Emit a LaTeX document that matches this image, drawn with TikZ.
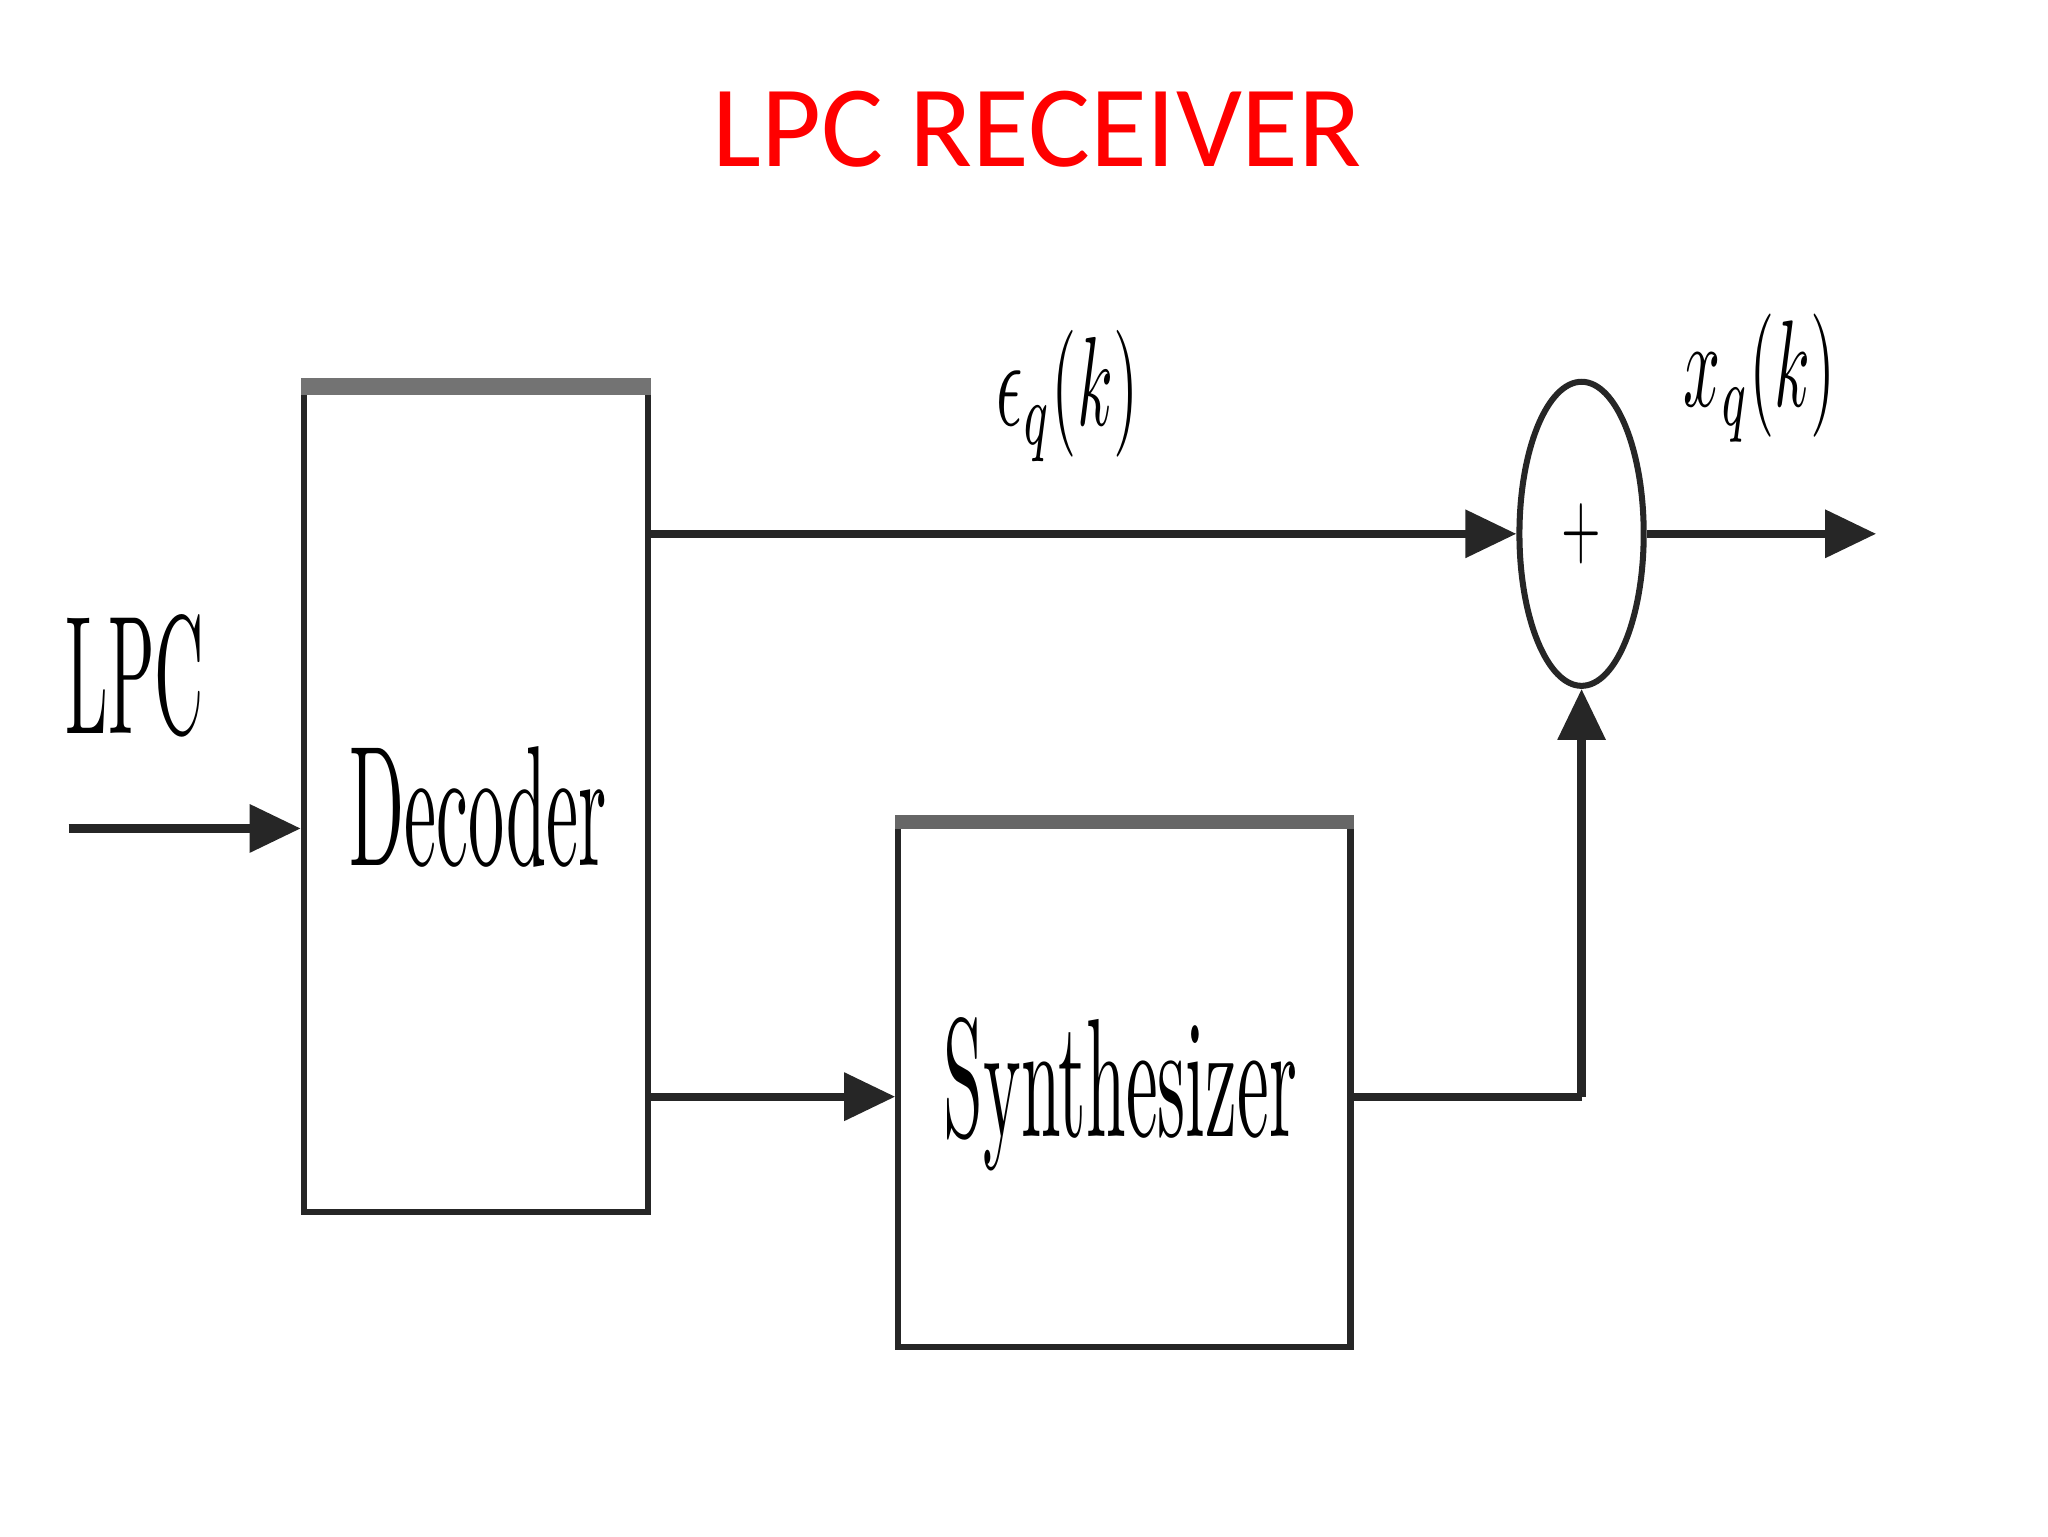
\documentclass[tikz,border=0pt]{standalone}
\usepackage{fontspec}
\newfontfamily\titlefont{Carlito}
\usetikzlibrary{arrows.meta,shapes.geometric}
\begin{document}
\begin{tikzpicture}[x=0.01cm,y=-0.01cm,
  blk/.style={draw=black!85,line width=1.3pt,inner sep=0},
  conn/.style={line width=1.8pt,draw=black!85,-{Triangle[length=11pt,width=10pt]}},
  seg/.style={line width=1.8pt,draw=black!85}]
\useasboundingbox (0,0) rectangle (1550,1163);
\node[text=red,font=\titlefont\fontsize{25}{30}\selectfont] (title) at (785,98) {LPC RECEIVER};
\node[blk,minimum width=2.6cm,minimum height=6.22cm] (dec) at (360,606) {};
\draw[line width=3.5pt,black!55] (dec.north west) -- (dec.north east);
\node[inner sep=0,anchor=base] (dect) at (362,655) {\resizebox{1.95cm}{0.9cm}{Decoder}};
\node[blk,minimum width=3.42cm,minimum height=3.95cm] (syn) at (851,822) {};
\draw[line width=3pt,black!60] (syn.north west) -- (syn.north east);
\node[inner sep=0,anchor=base] (synt) at (848,860) {\resizebox{2.67cm}{0.9cm}{Synthesizer}};
\node[draw=black!85,line width=1.3pt,ellipse,minimum width=0.94cm,minimum height=2.3cm,inner sep=0] (sum) at (1197,404) {};
\node[inner sep=0] (plus) at (1197,404) {\resizebox{0.3cm}{0.4cm}{+}};
\node[inner sep=0,anchor=base] (lpc) at (102,555) {\resizebox{1.05cm}{0.9cm}{LPC}};
\node[inner sep=0,anchor=base] (eps) at (808,322) {\resizebox{1.07cm}{0.72cm}{$\epsilon_q(k)$}};
\node[inner sep=0,anchor=base] (xq) at (1332,308) {\resizebox{1.15cm}{0.7cm}{$x_q(k)$}};
\coordinate (in) at (52,627);
\coordinate (out) at (1420,404);
\coordinate (corner) at (1197,830);
\draw[conn] (in) -- (dec.west |- in);
\draw[conn] (dec.east |- sum.west) -- (sum.west);
\draw[conn] (sum.east) -- (out);
\draw[conn] (dec.east |- corner) -- (syn.west |- corner);
\draw[seg] (syn.east |- corner) -- (corner);
\draw[conn] (corner) -- (sum.south);
\end{tikzpicture}
\end{document}
